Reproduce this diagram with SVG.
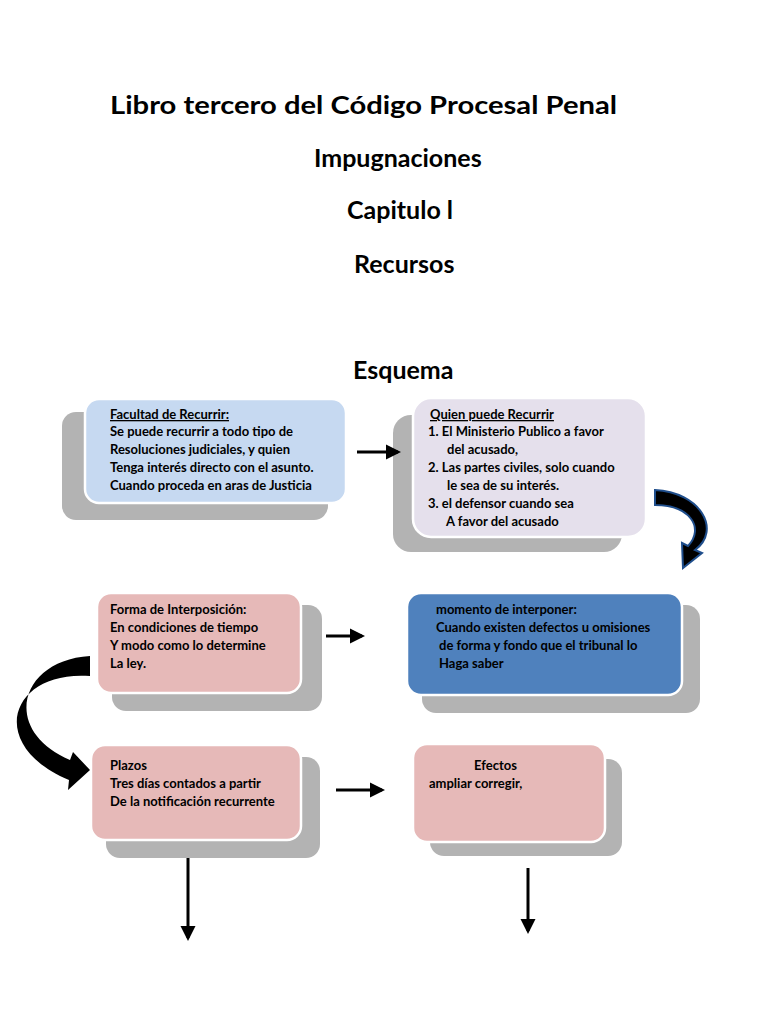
<svg xmlns="http://www.w3.org/2000/svg" width="768" height="1024" viewBox="0 0 768 1024">
<style>
.t{font-family:Lato,"Liberation Sans",sans-serif;font-weight:bold;fill:#000}
.h{font-size:25px}
.b{font-size:13px}
.sh{fill:#b3b3b3}
.fr{stroke:#fff;stroke-width:2.5}
.ln{stroke:#000;stroke-width:3;fill:none;marker-end:url(#ah)}
</style>
<defs><marker id="ah" markerWidth="6" markerHeight="6" refX="4" refY="3" orient="auto" markerUnits="strokeWidth"><path d="M0,0.5 L5,3 L0,5.5 Z" fill="#000"/></marker></defs>
<rect width="768" height="1024" fill="#fff"/>
<g id="titles" class="t h">
<text x="110" y="114" textLength="507" lengthAdjust="spacingAndGlyphs">Libro tercero  del Código Procesal Penal</text>
<text x="314" y="167">Impugnaciones</text>
<text x="347" y="219">Capitulo  l</text>
<text x="354" y="273">Recursos</text>
<text x="353" y="379">Esquema</text>
</g>
<g id="n1"><rect class="sh" x="62" y="412" width="266" height="108" rx="14"/><rect class="fr" x="85" y="399" width="261" height="104" rx="14" fill="#c6d9f1"/>
<g class="t b"><text x="110" y="419" text-decoration="underline">Facultad de Recurrir:</text><text x="110" y="436">Se puede recurrir a todo tipo de</text><text x="110" y="454">Resoluciones  judiciales, y quien</text><text x="110" y="472">Tenga interés directo con el asunto.</text><text x="110" y="490">Cuando proceda en aras de Justicia</text></g></g>
<g id="n2"><rect class="sh" x="393" y="415" width="229" height="137" rx="18"/><rect class="fr" x="413" y="398" width="233" height="139" rx="18" fill="#e5e0ec"/>
<g class="t b"><text x="430" y="419"><tspan text-decoration="underline">     Quien puede Recurrir</tspan></text><text x="428" y="436">1. El Ministerio Publico a favor</text><text x="447" y="454">del acusado,</text><text x="428" y="472">2. Las partes civiles, solo cuando</text><text x="447" y="490">le sea de su interés.</text><text x="428" y="508">3. el defensor cuando sea</text><text x="446" y="526">A favor del acusado</text></g></g>
<g id="n3"><rect class="sh" x="112" y="605" width="210" height="106" rx="14"/><rect class="fr" x="97" y="593" width="204" height="100" rx="14" fill="#e6b9b8"/>
<g class="t b"><text x="110" y="614">Forma de Interposición:</text><text x="110" y="632">En condiciones de tiempo</text><text x="110" y="650">Y modo como lo determine</text><text x="110" y="668">La ley.</text></g></g>
<g id="n4"><rect class="sh" x="422" y="605" width="278" height="108" rx="14"/><rect class="fr" x="407" y="593" width="275" height="102" rx="14" fill="#4f81bd"/>
<g class="t b"><text x="436" y="614">momento de interponer:</text><text x="436" y="632">Cuando existen defectos u omisiones</text><text x="439" y="650">de forma y fondo  que el tribunal lo</text><text x="439" y="668">Haga saber</text></g></g>
<g id="n5"><rect class="sh" x="106" y="757" width="214" height="101" rx="14"/><rect class="fr" x="91" y="745" width="210" height="95" rx="14" fill="#e6b9b8"/>
<g class="t b"><text x="110" y="770">Plazos</text><text x="110" y="788">Tres días contados a partir</text><text x="110" y="806">De la notificación recurrente</text></g></g>
<g id="n6"><rect class="sh" x="430" y="759" width="192" height="97" rx="14"/><rect class="fr" x="413" y="744" width="192" height="98" rx="14" fill="#e6b9b8"/>
<g class="t b"><text x="474" y="770">Efectos</text><text x="429" y="788">ampliar corregir,</text></g></g>
<g id="connectors">
<line class="ln" x1="357" y1="452" x2="398" y2="452"/>
<line class="ln" x1="326" y1="636" x2="362" y2="636"/>
<line class="ln" x1="336" y1="790" x2="382" y2="790"/>
<line class="ln" x1="188" y1="858" x2="188" y2="938"/>
<line class="ln" x1="528" y1="868" x2="528" y2="931"/>
<path d="M655,490 C700,492 722,530 695,550 L702,553 L683,568 L682,543 L688,546 C705,528 690,505 655,505 Z" fill="#000" stroke="#1f4e8c" stroke-width="2"/>
<path d="M90,656 C20,660 0,730 70,760 L73,752 L90,770 L68,790 L69,780 C-15,745 10,670 90,676 Z" fill="#000"/>
</g>
</svg>
